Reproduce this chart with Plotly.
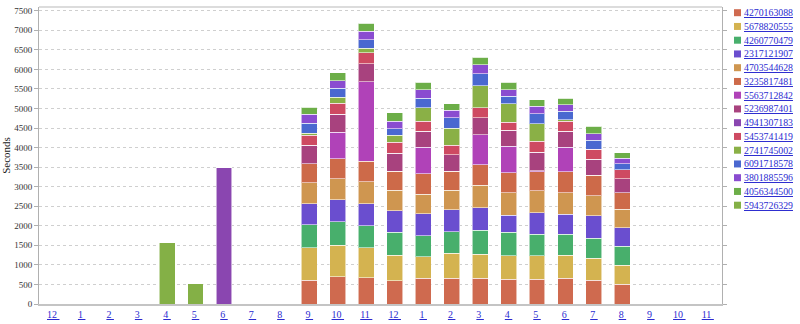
import plotly.graph_objects as go

tick_labels = ["12", "1", "2", "3", "4", "5", "6", "7", "8", "9", "10", "11",
               "12", "1", "2", "3", "4", "5", "6", "7", "8", "9", "10", "11"]

series_names = ["4270163088", "5678820555", "4260770479", "2317121907", "4703544628",
                "3235817481", "5563712842", "5236987401", "4941307183", "5453741419",
                "2741745002", "6091718578", "3801885596", "4056344500", "5943726329"]

series_colors = ["#CF6A4F", "#D4B350", "#48AF6C", "#6A4ECF", "#CF9650",
                 "#CD6A49", "#B042B8", "#A8427E", "#8A46B0", "#CE4A62",
                 "#8AB046", "#4A68D0", "#8A4CD0", "#6CAE48", "#84B046"]

Z = [0] * 9
T = [0] * 3
s_4270163088 = Z + [612, 697, 671, 595, 655, 655, 655, 629, 629, 655, 612, 502] + T
s_5678820555 = Z + [824, 808, 765, 655, 552, 638, 613, 604, 604, 595, 554, 493] + T
s_4260770479 = Z + [597, 595, 561, 579, 535, 552, 620, 596, 553, 528, 510, 485] + T
s_2317121907 = Z + [535, 570, 571, 552, 571, 570, 569, 441, 553, 518, 577, 467] + T
s_4703544628 = Z + [527, 536, 552, 527, 493, 493, 579, 570, 552, 553, 510, 476] + T
s_3235817481 = Z + [494, 511, 528, 492, 528, 485, 528, 519, 485, 527, 528, 417] + T
s_5563712842 = Z + [0, 679, 2041, 0, 679, 0, 765, 680, 30, 637, 0, 0] + T
s_5236987401 = Z + [467, 451, 451, 460, 409, 425, 434, 400, 480, 400, 408, 366] + T
s_4941307183 = [0, 0, 0, 0, 0, 0, 3500, 25, 0] + [0] * 12 + T
s_5453741419 = Z + [255, 288, 281, 273, 254, 238, 254, 212, 272, 255, 255, 230] + T
s_2741745002 = Z + [59, 154, 118, 178, 341, 443, 570, 469, 452, 43, 0, 0] + T
s_6091718578 = Z + [256, 229, 213, 171, 247, 264, 298, 195, 254, 212, 230, 153] + T
s_3801885596 = Z + [221, 196, 220, 194, 213, 186, 229, 170, 187, 171, 170, 144] + T
s_4056344500 = Z + [187, 196, 204, 214, 194, 171, 195, 186, 171, 170, 187, 136] + T
s_5943726329 = [0, 0, 0, 0, 1570, 515, 0, 0, 0] + [0] * 12 + T

series_values = [s_4270163088, s_5678820555, s_4260770479, s_2317121907, s_4703544628,
                 s_3235817481, s_5563712842, s_5236987401, s_4941307183, s_5453741419,
                 s_2741745002, s_6091718578, s_3801885596, s_4056344500, s_5943726329]

y_ticks = list(range(0, 7501, 500))

x_pos = list(range(len(tick_labels)))

fig = go.Figure()
for name, col, vals in zip(series_names, series_colors, series_values):
    fig.add_trace(go.Bar(
        x=x_pos, y=vals, name=name,
        marker=dict(color=col, line=dict(color="rgba(255,255,255,0.55)", width=1)),
        showlegend=False,
    ))

SERIF = "Liberation Serif"
LINK = "#2a2ad0"

# plot-area geometry in pixels (for custom legend placement)
L, R, TOP, BOT = 39, 722, 7, 304
W, H = R - L, BOT - TOP

shapes = []
annotations = []
for i, (name, col) in enumerate(zip(series_names, series_colors)):
    cy = 12.7 + i * 13.75
    yp = (BOT - cy) / H
    x0 = (734 - L) / W
    x1 = (741 - L) / W
    shapes.append(dict(type="rect", xref="paper", yref="paper",
                       x0=x0, x1=x1, y0=yp - 3.5 / H, y1=yp + 3.5 / H,
                       fillcolor=col, line=dict(width=0)))
    annotations.append(dict(xref="paper", yref="paper", x=(742 - L) / W, y=yp,
                            xanchor="left", yanchor="middle", showarrow=False,
                            text="<u>" + name + "</u>",
                            font=dict(family=SERIF, size=9.8, color=LINK)))

shapes.append(dict(type="line", xref="paper", yref="paper", x0=0, x1=1, y0=1, y1=1,
                   line=dict(color="#d0d0d0", width=1.5)))

fig.update_layout(
    width=800, height=324,
    margin=dict(l=L, r=800 - R, t=TOP, b=324 - BOT, pad=0, autoexpand=False),
    barmode="stack", bargap=0.44,
    plot_bgcolor="white", paper_bgcolor="white",
    shapes=shapes, annotations=annotations,
    xaxis=dict(
        tickmode="array", tickvals=x_pos,
        ticktext=["<u>" + t + "\u00a0</u>" for t in tick_labels],
        tickfont=dict(family=SERIF, size=10, color=LINK),
        range=[-0.5, len(tick_labels) - 0.5],
        showgrid=False, showline=True, linecolor="#c4c4c4", linewidth=2,
        mirror=False, ticks="", zeroline=False, automargin=False,
    ),
    yaxis=dict(
        range=[0, 7595], tickvals=y_ticks,
        tickfont=dict(family=SERIF, size=9, color="#333333"),
        showgrid=True, gridcolor="#cfcfcf", griddash="dot", gridwidth=1,
        showline=True, linecolor="#b0b0b0", linewidth=1, mirror="ticks",
        ticks="outside", ticklen=4, tickcolor="#b0b0b0",
        zeroline=False, automargin=False,
        title=dict(text="Seconds", font=dict(family=SERIF, size=11, color="#222222"), standoff=6),
    ),
)

fig.write_html("out.html")
